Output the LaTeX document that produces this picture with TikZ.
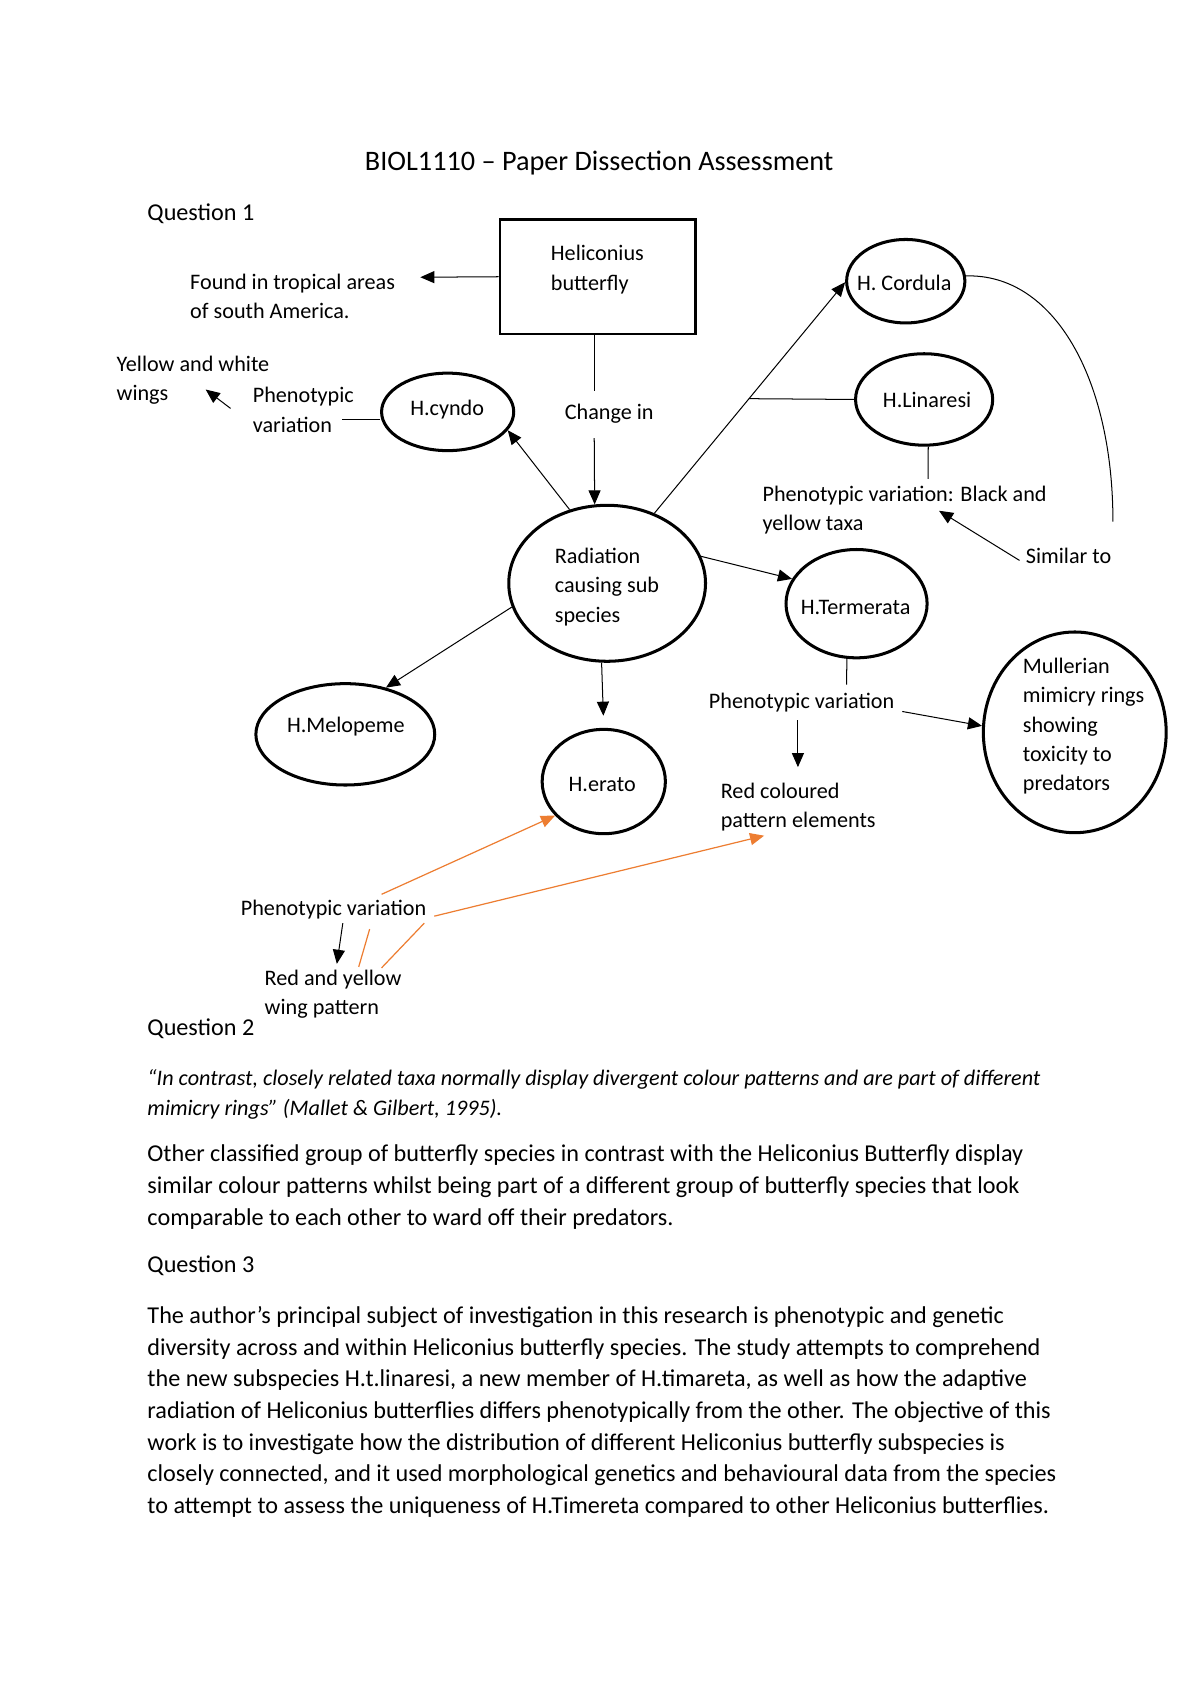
\documentclass[tikz,border=0pt]{standalone}
\usepackage{fontspec}
\setmainfont{Carlito}
\usetikzlibrary{arrows.meta,shapes.geometric}
\newcommand\pxu{0.49297pt}
\definecolor{orng}{RGB}{237,125,49}
\begin{document}
\begin{tikzpicture}[x=0.49297pt,y=-0.49297pt,
  lbl/.style={inner sep=0pt, anchor=base west, align=left, font=\fontsize{11}{14.6}\selectfont},
  inlbl/.style={inner sep=0pt, anchor=center, font=\fontsize{11}{14.6}\selectfont},
  head/.style={inner sep=0pt, anchor=base west, font=\fontsize{12}{14}\selectfont},
  body/.style={inner sep=0pt, anchor=base west, align=left, font=\fontsize{12}{15.7}\selectfont},
  bub/.style={ellipse, draw, line width=1.5pt, inner sep=0pt},
  con/.style={line width=0.5pt},
  arr/.style={con, -{Triangle[length=7pt,width=6pt]}},
  oarr/.style={line width=0.6pt, draw=orng, -{Triangle[length=7pt,width=6pt]}},
  oline/.style={line width=0.6pt, draw=orng}
]
\useasboundingbox[fill=white] (0,0) rectangle (1207.6,1708.8);

% title and headings (base west of multi-line nodes = baseline of last line)
\node[inner sep=0pt, font=\fontsize{14}{16}\selectfont] (title) at (603,164) {BIOL1110 – Paper Dissection Assessment};
\node[head] (q1) at (148,222) {Question 1};

% top box
\node[draw, line width=1.2pt, minimum width=197*\pxu, minimum height=115*\pxu, inner sep=0pt] (box) at (601.5,278.5) {};
\node[lbl] (boxtxt) at (554,292) {Heliconius\\butterfly};

\node[lbl] (found) at (191,321) {Found in tropical areas\\of south America.};
\node[lbl] (yellow) at (117,403) {Yellow and white\\wings};
\node[lbl] (pv1) at (254,435) {Phenotypic\\variation};
\node[lbl] (change) at (568,422) {Change in};

% ellipses
\node[bub, minimum width=133*\pxu, minimum height=78*\pxu] (cyndo) at (450.5,414.5) {};
\node[inlbl] (cyndot) at (450,412) {H.cyndo};
\node[bub, minimum width=198*\pxu, minimum height=157*\pxu] (rad) at (611,587) {};
\node[lbl] (radt) at (558,626) {Radiation\\causing sub\\species};
\node[bub, minimum width=119*\pxu, minimum height=84*\pxu] (cord) at (911.5,283) {};
\node[inlbl] (cordt) at (910,285) {H. Cordula};
\node[bub, minimum width=138*\pxu, minimum height=92*\pxu] (lin) at (930,402) {};
\node[inlbl] (lint) at (933,402.5) {H.Linaresi};
\node[bub, minimum width=142*\pxu, minimum height=109*\pxu] (term) at (862,607.5) {};
\node[inlbl] (termt) at (861,611) {H.Termerata};
\node[bub, minimum width=184*\pxu, minimum height=202*\pxu] (mull) at (1081.6,737) {};
\node[lbl] (mullt) at (1029,796) {Mullerian\\mimicry rings\\showing\\toxicity to\\predators};
\node[bub, minimum width=180*\pxu, minimum height=102*\pxu] (melo) at (347.5,739) {};
\node[inlbl] (melot) at (348,731) {H.Melopeme};
\node[bub, minimum width=124*\pxu, minimum height=105*\pxu] (erato) at (607.6,786.5) {};
\node[inlbl] (eratot) at (606,789) {H.erato};

\node[lbl] (byl) at (767,534) {Phenotypic variation: Black and\\yellow taxa};
\node[lbl] (similar) at (1032,567) {Similar to};
\node[lbl] (pv2) at (713,713) {Phenotypic variation};
\node[lbl] (redcol) at (725,833) {Red coloured\\pattern elements};
\node[lbl] (pv3) at (242,921) {Phenotypic variation};
\node[lbl] (ry) at (266,1021) {Red and yellow\\wing pattern};

% connector end points
\coordinate (foundtip) at (423,279);
\coordinate (chgtop) at (598,393);
\coordinate (chgbot) at (598,441);
\coordinate (pv1end) at (344,422);
\coordinate (yw1) at (232,411);
\coordinate (yw2) at (207,392);
\coordinate (linend) at (934,482);
\coordinate (sim1) at (1026,564);
\coordinate (sim2) at (945,514);
\coordinate (curveend) at (1120,525);
\coordinate (termend) at (852,689);
\coordinate (rc1) at (803,725);
\coordinate (rc2) at (803,772);
\coordinate (pvm) at (908,716);
\coordinate (o1) at (384,900);
\coordinate (o2) at (437,922);
\coordinate (o2end) at (769,841);
\coordinate (b1) at (345,929);
\coordinate (b2) at (339,970);
\coordinate (l1a) at (372,935);
\coordinate (l1b) at (361,973);
\coordinate (l2a) at (427,929);
\coordinate (l2b) at (384,974);

% connectors
\draw[arr] (box.west) -- (foundtip);
\draw[con] (box.south -| chgtop) -- (chgtop);
\draw[arr] (chgbot) -- (rad.99);
\draw[arr] (rad.117) -- (cyndo.-17);
\draw[con] (cyndo.west |- pv1end) -- (pv1end);
\draw[arr] (yw1) -- (yw2);
\draw[arr] (rad.56) -- (cord.181) coordinate[pos=0.496] (jn);
\draw[con] (jn) -- (lin.west);
\draw[con] (lin.-85) -- (linend);
\draw[arr] (sim1) -- (sim2);
\draw[con] (cord.5) .. controls (1060,275) and (1120,380) .. (curveend);
\draw[arr] (rad.16) -- (term.159);
\draw[con] (term.-100) -- (termend);
\draw[arr] (rc1) -- (rc2);
\draw[arr] (pvm) -- (mull.176);
\draw[arr] (rad.194) -- (melo.49);
\draw[arr, shorten >=6pt] (rad.-94) -- (erato.north);
\draw[oarr] (o1) -- (erato.-145);
\draw[oarr] (o2) -- (o2end);
\draw[arr] (b1) -- (b2);
\draw[oline] (l1a) -- (l1b);
\draw[oline] (l2a) -- (l2b);

% Question 2 and 3
\node[head] (q2) at (148,1042) {Question 2};
\node[inner sep=0pt, anchor=base west, align=left, font=\fontsize{11}{15}\selectfont\itshape] (quote) at (148,1123) {“In contrast, closely related taxa normally display divergent colour patterns and are part of different\\mimicry rings” (Mallet \& Gilbert, 1995).};
\node[body] (ans2) at (148,1233) {Other classified group of butterfly species in contrast with the Heliconius Butterfly display\\similar colour patterns whilst being part of a different group of butterfly species that look\\comparable to each other to ward off their predators.};
\node[head] (q3) at (148,1281) {Question 3};
\node[body] (ans3) at (148,1523) {The author’s principal subject of investigation in this research is phenotypic and genetic\\diversity across and within Heliconius butterfly species. The study attempts to comprehend\\the new subspecies H.t.linaresi, a new member of H.timareta, as well as how the adaptive\\radiation of Heliconius butterflies differs phenotypically from the other. The objective of this\\work is to investigate how the distribution of different Heliconius butterfly subspecies is\\closely connected, and it used morphological genetics and behavioural data from the species\\to attempt to assess the uniqueness of H.Timereta compared to other Heliconius butterflies.};
\end{tikzpicture}
\end{document}
